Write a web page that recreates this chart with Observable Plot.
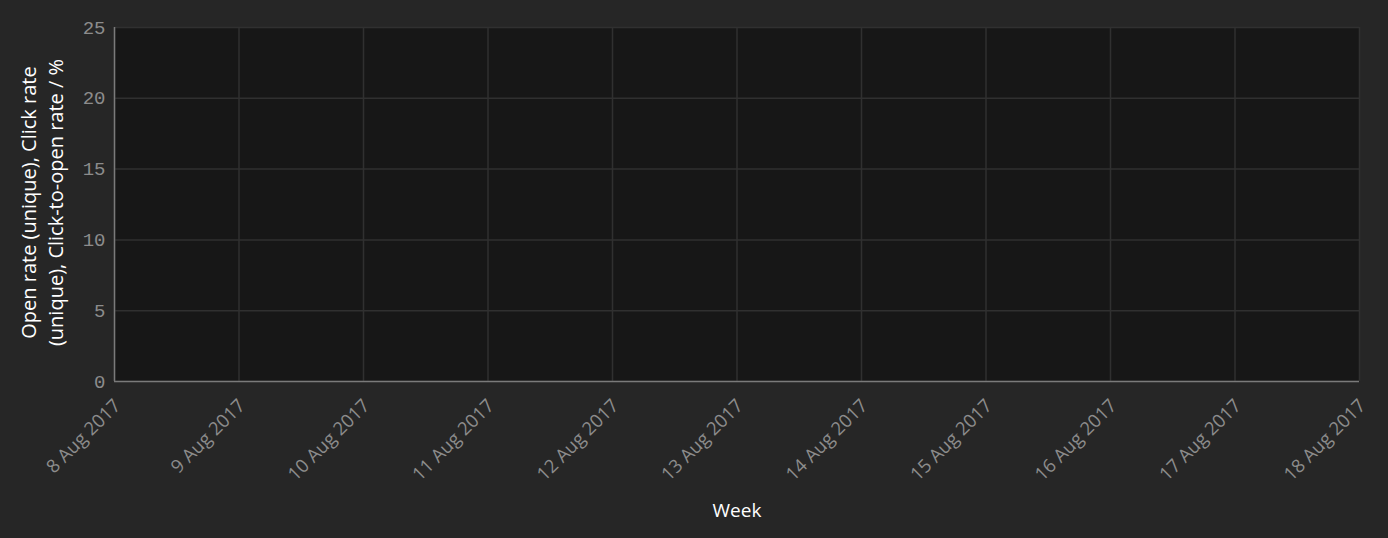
<!DOCTYPE html>
<html><head><meta charset="utf-8">
<script src="https://cdn.jsdelivr.net/npm/d3@7"></script>
<script src="https://cdn.jsdelivr.net/npm/@observablehq/plot@0.6"></script>
<style>
html,body{margin:0;padding:0;background:#262626;}
</style></head>
<body><div id="chart"></div>
<script>
const weeks = ["2017-08-08","2017-08-09","2017-08-10","2017-08-11","2017-08-12","2017-08-13","2017-08-14","2017-08-15","2017-08-16","2017-08-17","2017-08-18"];
const yTicks = [0, 5, 10, 15, 20, 25];
const openRate = [];
const clickRate = [];
const clickToOpenRate = [];
const yTitleLines = ["Open rate (unique), Click rate", "(unique), Click-to-open rate / %"];
const xTitle = "Week";

const dates = weeks.map(d => new Date(d + "T00:00:00Z"));
const rows = [];
openRate.forEach((v,i)=>rows.push({week:dates[i], value:v, series:"Open rate (unique)"}));
clickRate.forEach((v,i)=>rows.push({week:dates[i], value:v, series:"Click rate (unique)"}));
clickToOpenRate.forEach((v,i)=>rows.push({week:dates[i], value:v, series:"Click-to-open rate"}));

const fmt = d3.utcFormat("%-d %b %Y");
const chart = Plot.plot({
  width: 1388, height: 538,
  marginLeft: 114, marginRight: 29, marginTop: 27, marginBottom: 157,
  style: {background: "#262626", color: "#8c8c8c", overflow: "visible"},
  x: {type: "utc", domain: [dates[0], dates[dates.length-1]]},
  y: {domain: [0, 25]},
  marks: [
    Plot.frame({fill: "#171717", stroke: null}),
    Plot.gridX(dates, {stroke: "#303030", strokeOpacity: 1, strokeWidth: 1.5}),
    Plot.gridY(yTicks, {stroke: "#303030", strokeOpacity: 1, strokeWidth: 1.5}),
    Plot.axisY(yTicks, {tickSize: 0, tickPadding: 9, fontSize: 19, fontFamily: "Liberation Mono, DejaVu Sans Mono, monospace", fill: "#8c8c8c", label: null}),
    Plot.axisX(dates, {tickSize: 0, tickPadding: 21, dx: 3, tickRotate: -45, fontSize: 18.5, fontFamily: "Open Sans, Noto Sans, sans-serif", fill: "#8c8c8c", tickFormat: fmt, label: null}),
    Plot.ruleX([dates[0]], {stroke: "#7a7a7a", strokeWidth: 1.5}),
    Plot.ruleY([0], {stroke: "#7a7a7a", strokeWidth: 1.5}),
    Plot.lineY(rows, {x: "week", y: "value", stroke: "series"}),
    Plot.text([yTitleLines.join("\n")], {frameAnchor: "left", textAnchor: "middle", lineAnchor: "middle", dx: -73.5, dy: -2, rotate: -90, fill: "#ffffff", fontSize: 20, fontFamily: "Open Sans, Noto Sans, sans-serif", lineHeight: 1.35}),
    Plot.text([xTitle], {frameAnchor: "bottom", textAnchor: "middle", lineAnchor: "middle", dy: 129, fill: "#ffffff", fontSize: 19, fontFamily: "Open Sans, Noto Sans, sans-serif"})
  ]
});
document.getElementById("chart").appendChild(chart);
</script>
</body></html>
